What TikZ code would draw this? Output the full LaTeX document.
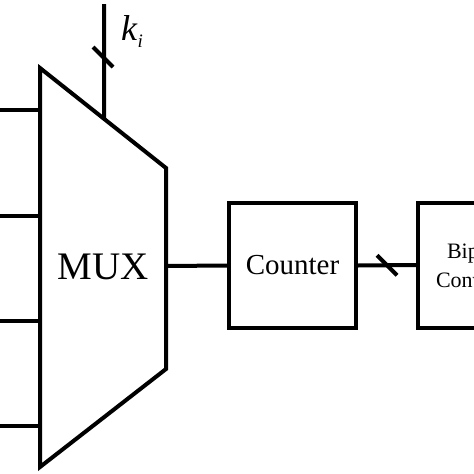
\documentclass[tikz,border=0pt]{standalone}
\usepackage{fontspec}
\setmainfont{Liberation Serif}
\usetikzlibrary{calc}
\begin{document}
\begin{tikzpicture}[x=1pt,y=-1pt,line width=4pt,
  box/.style={draw,line width=4pt,minimum width=127pt,minimum height=125pt,inner sep=0pt},
  wire/.style={draw,line width=4pt},
  slashmark/.style={draw,line width=4pt}]
\useasboundingbox (0,0) rectangle (474,474);
\clip (0,0) rectangle (474,474);
% MUX corners
\coordinate (m1) at (40,68);
\coordinate (m2) at (166,168);
\coordinate (m3) at (166,369);
\coordinate (m4) at (40,467);
% inputs
\foreach \y [count=\n] in {110,216,321,426}{
  \coordinate (in\n) at (0,\y);
  \coordinate (e\n) at (40,\y);
  \path[wire] (in\n) -- (e\n);
}
\draw (m1) -- (m2) -- (m3) -- (m4) -- cycle;
\node (muxlabel) at (103,267) {\fontsize{39}{39}\selectfont MUX};
% select input
\coordinate (ctop) at (104,4);
\coordinate (cbot) at ($(m1)!0.508!(m2)$);
\path[wire] (ctop) -- (cbot);
\coordinate (s0) at (103,57);
\path[slashmark] ($(s0)+(-10,-10)$) -- ($(s0)+(10,10)$);
\node[anchor=base west,inner sep=0pt] (klabel) at (119,40)
  {{\fontsize{36}{36}\selectfont\textit{k}}{\fontsize{19}{19}\selectfont\raisebox{-7pt}{\textit{i}}}};
% counter
\node[box] (cnt) at (292.5,265.5) {\fontsize{29}{29}\selectfont Counter};
\coordinate (mo) at (166,266);
\path[wire] (mo) -- (cnt.west);
% bipolar converter
\node[box,minimum width=124pt,align=center,font=\fontsize{22}{29}\selectfont] (bip) at (480,265)
  {Bipolar\\Converter};
\path[wire] (cnt.east) -- coordinate[pos=0.5] (s1) (bip.west);
\path[slashmark] ($(s1)+(-10,-10)$) -- ($(s1)+(10,10)$);
\end{tikzpicture}
\end{document}
